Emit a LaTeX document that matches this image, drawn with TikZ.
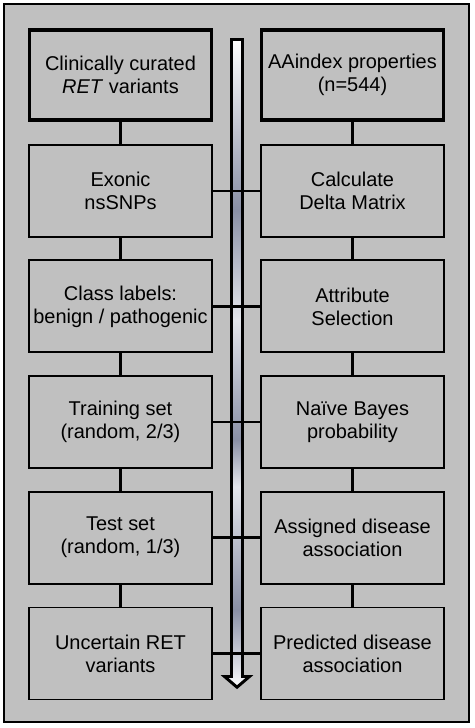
\documentclass[tikz,border=0pt]{standalone}
\usepackage{fontspec}
\setmainfont{Liberation Sans}
\usetikzlibrary{positioning}
\definecolor{panelgray}{RGB}{192,192,192}
\definecolor{arrowdark}{RGB}{138,144,166}
\definecolor{arrowlight}{RGB}{228,230,236}
\pgfdeclareverticalshading{arrowshade}{100bp}{color(0bp)=(white); color(25bp)=(white); color(26.1bp)=(arrowlight); color(31bp)=(arrowdark); color(40.5bp)=(arrowlight); color(44.1bp)=(arrowdark); color(53.4bp)=(arrowlight); color(61.9bp)=(arrowdark); color(75bp)=(white); color(100bp)=(white)}

\begin{document}
\begin{tikzpicture}[x=1cm,y=1cm, every node/.style={font=\fontsize{14.2}{16.4}\selectfont},
    stepbox/.style={draw, line width=1.4pt, fill=panelgray, minimum width=4.575cm, minimum height=2.3cm, align=center, inner sep=0pt},
    startbox/.style={stepbox, line width=2.5pt, minimum width=4.54cm, minimum height=2.26cm},
    link/.style={line width=1.8pt}]
    \useasboundingbox (0,0) rectangle (11.85,18.2);
    % panel
    \draw[line width=1.4pt, fill=panelgray] (0.1,0.15) rectangle (11.725,18.1);
    % flow arrow
    \draw[line width=2.1pt, shading=arrowshade] (5.7875,17.2125) -- (6.0625,17.2125) -- (6.0625,1.2875) -- (6.2375,1.2875)
        -- (5.925,1.02) -- (5.6125,1.2875) -- (5.7875,1.2875) -- cycle;
    % left column
    \node[startbox] (curated) at (3.0125,16.325) {Clinically curated\\\textit{RET} variants};
    \node[stepbox] (exonic) at (3.0125,13.43) {Exonic\\nsSNPs};
    \node[stepbox] (labels) at (3.0125,10.54) {Class labels:\\benign / pathogenic};
    \node[stepbox] (training) at (3.0125,7.65) {Training set\\(random, 2/3)};
    \node[stepbox] (testset) at (3.0125,4.76) {Test set\\(random, 1/3)};
    \node[stepbox] (uncertain) at (3.0125,1.8625) {Uncertain RET\\variants};
    % right column
    \node[startbox] (aaindex) at (8.8125,16.325) {AAindex properties\\(n=544)};
    \node[stepbox] (delta) at (8.8125,13.43) {Calculate\\Delta Matrix};
    \node[stepbox] (selection) at (8.8125,10.54) {Attribute\\Selection};
    \node[stepbox] (bayes) at (8.8125,7.65) {Naïve Bayes\\probability};
    \node[stepbox] (assigned) at (8.8125,4.76) {Assigned disease\\association};
    \node[stepbox] (predicted) at (8.8125,1.8625) {Predicted disease\\association};
    % links
    \draw[link] (curated) -- (exonic);
    \draw[link] (exonic) -- (labels);
    \draw[link] (labels) -- (training);
    \draw[link] (training) -- (testset);
    \draw[link] (testset) -- (uncertain);
    \draw[link] (aaindex) -- (delta);
    \draw[link] (delta) -- (selection);
    \draw[link] (selection) -- (bayes);
    \draw[link] (bayes) -- (assigned);
    \draw[link] (assigned) -- (predicted);
    \draw[link] (exonic) -- (delta);
    \draw[link] (labels) -- (selection);
    \draw[link] (training) -- (bayes);
    \draw[link] (testset) -- (assigned);
    \draw[link] (uncertain) -- (predicted);
\end{tikzpicture}
\end{document}
